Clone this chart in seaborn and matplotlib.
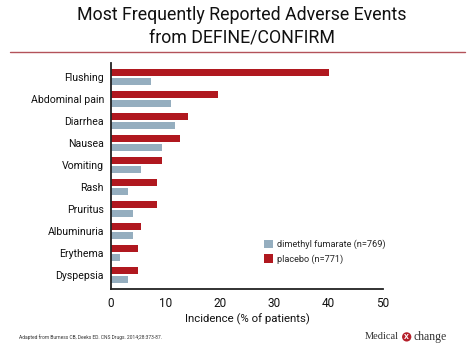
import numpy as np
import pandas as pd
import matplotlib
matplotlib.use("Agg")
import matplotlib.pyplot as plt
import seaborn as sns
from matplotlib.lines import Line2D

categories = ["Flushing", "Abdominal pain", "Diarrhea", "Nausea", "Vomiting",
              "Rash", "Pruritus", "Albuminuria", "Erythema", "Dyspepsia"]
placebo = [40.0, 19.7, 14.2, 12.7, 9.4, 8.5, 8.5, 5.5, 4.9, 4.9]
dmf = [7.4, 11.0, 11.8, 9.4, 5.5, 3.2, 4.1, 4.1, 1.7, 3.2]
series_dmf = "dimethyl fumarate (n=769)"
series_placebo = "placebo (n=771)"
xticks = [0, 10, 20, 30, 40, 50]

RED = "#B0181F"
GRAY = "#95AEBF"

df = pd.DataFrame({
    "event": categories * 2,
    "value": placebo + dmf,
    "series": [series_placebo] * len(categories) + [series_dmf] * len(categories),
})

sns.set_theme(style="white")
plt.rcParams["font.family"] = ["Roboto", "DejaVu Sans"]

fig = plt.figure(figsize=(4.74, 3.55), dpi=100)
ax = fig.add_axes([0.234, 0.186, 0.574, 0.637])

sns.barplot(data=df, y="event", x="value", hue="series", order=categories,
            hue_order=[series_placebo, series_dmf],
            palette={series_placebo: RED, series_dmf: GRAY},
            width=0.82, orient="h", ax=ax, legend=True, saturation=1,
            linewidth=0)

# small gap between the paired bars
for p in ax.patches:
    h = p.get_height()
    if 0 < h < 1:
        p.set_y(p.get_y() + 0.045)
        p.set_height(h - 0.09)

ax.set_xlim(0, 50)
ax.set_ylim(9.64, -0.64)
ax.set_xticks(xticks)
ax.set_xticklabels([str(t) for t in xticks], fontsize=8.5, color="#111111")
ax.tick_params(axis="x", direction="out", length=4, width=1.2, color="#222222", pad=2)
ax.tick_params(axis="y", length=0, labelsize=7.6, labelcolor="#111111", pad=5)
ax.set_ylabel("")
ax.set_xlabel("Incidence (% of patients)", fontsize=8.2, color="#111111", labelpad=2)
for s in ["top", "right"]:
    ax.spines[s].set_visible(False)
for s in ["left", "bottom"]:
    ax.spines[s].set_color("#222222")
    ax.spines[s].set_linewidth(1.3)

handles, labels = ax.get_legend_handles_labels()
hmap = dict(zip(labels, handles))
ax.legend([hmap[series_dmf], hmap[series_placebo]], [series_dmf, series_placebo],
          loc="upper left", bbox_to_anchor=(0.55, 0.235), frameon=False,
          fontsize=6.6, handlelength=0.95, handleheight=1.05, handletextpad=0.45,
          labelspacing=0.55, borderaxespad=0)

fig.text(0.511, 0.958, "Most Frequently Reported Adverse Events", ha="center", va="center",
         fontsize=12.8, color="#111111")
fig.text(0.511, 0.893, "from DEFINE/CONFIRM", ha="center", va="center",
         fontsize=12.8, color="#111111")
fig.add_artist(Line2D([0.022, 0.98], [0.853, 0.853], transform=fig.transFigure,
                      color="#B3525A", linewidth=1.0))

fig.text(0.04, 0.051, "Adapted from Burness CB, Deeks ED. CNS Drugs. 2014;28:373-87.",
         fontsize=3.5, color="#333333", va="center")
fig.text(0.842, 0.051, "Medical", fontsize=7.5, family=["Liberation Serif"], color="#333333",
         ha="right", va="center")
fig.text(0.858, 0.051, "X", fontsize=5.5, color="white", weight="bold", ha="center", va="center",
         bbox=dict(boxstyle="circle,pad=0.15", fc="#B5202A", ec="none"))
fig.text(0.873, 0.051, "change", fontsize=8.5, family=["Liberation Serif"], color="#333333",
         ha="left", va="center")

fig.savefig("out.png", dpi=100)
